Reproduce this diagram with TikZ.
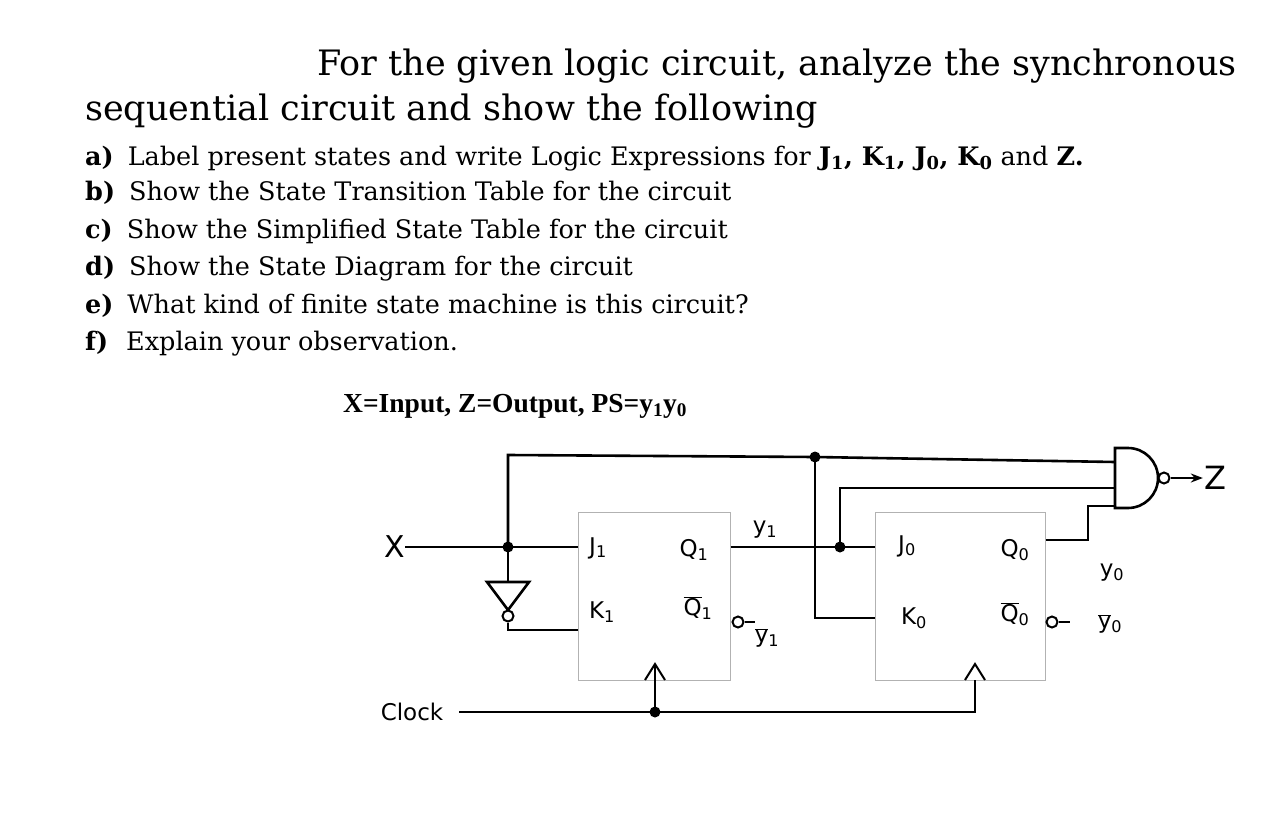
\documentclass[tikz,border=0pt]{standalone}
\usepackage{fontspec}
\setmainfont{DejaVu Serif}
\newfontfamily\tms{Liberation Serif}
\newfontfamily\hand{DejaVu Sans}
\usetikzlibrary{arrows.meta}
\begin{document}
\begin{tikzpicture}[x=1pt,y=-1pt,
 wire/.style={line width=2.6pt},
 ff/.style={draw=gray!60,line width=1pt,fill=white},
 dot/.style={circle,fill=black,inner sep=0pt,minimum size=11pt},
 bub/.style={circle,draw,line width=2pt,inner sep=0pt,minimum size=11pt,fill=white},
 hw/.style={font=\hand\fontsize{23}{25}\selectfont,inner sep=1pt},
 it/.style={anchor=base west,font=\fontsize{25.5}{28}\selectfont,inner sep=0pt}]
\useasboundingbox (0,0) rectangle (1288,816);
% header
\node[anchor=base west,inner sep=0pt,font=\fontsize{35}{38}\selectfont] (h1) at (317,75) {For the given logic circuit, analyze the synchronous};
\node[anchor=base west,inner sep=0pt,font=\fontsize{35}{38}\selectfont] (h2) at (85,121) {sequential circuit and show the following};
\node[it] (ia) at (85,165) {\textbf{a)}\hspace{14pt}Label present states and write Logic Expressions for \textbf{J\textsubscript{1}, K\textsubscript{1}, J\textsubscript{0}, K\textsubscript{0}} and \textbf{Z.}};
\node[it] (ib) at (85,200) {\textbf{b)}\hspace{14pt}Show the State Transition Table for the circuit};
\node[it] (ic) at (85,238) {\textbf{c)}\hspace{14pt}Show the Simplified State Table for the circuit};
\node[it] (id) at (85,275) {\textbf{d)}\hspace{14pt}Show the State Diagram for the circuit};
\node[it] (ie) at (85,313) {\textbf{e)}\hspace{14pt}What kind of finite state machine is this circuit?};
\node[it] (if) at (85,350) {\textbf{f)}\hspace{18pt}Explain your observation.};
\node[anchor=base west,inner sep=0pt,font=\tms\bfseries\fontsize{27.5}{30}\selectfont] (leg) at (343,412) {X=Input, Z=Output, PS=y\textsubscript{1}y\textsubscript{0}};
% flip-flops
\node[ff,minimum width=152pt,minimum height=168pt] (f1) at (654,596) {};
\node[ff,minimum width=170pt,minimum height=168pt] (f2) at (960,596) {};
\node[hw] (j1) at (598,548) {J\textsubscript{1}};
\node[hw] (k1) at (602,612) {K\textsubscript{1}};
\node[hw] (q1) at (694,550) {Q\textsubscript{1}};
\node[hw] (q1b) at (698,608) {$\overline{\mbox{Q}}$\textsubscript{1}};
\node[hw] (j0) at (907,546) {J\textsubscript{0}};
\node[hw] (k0) at (914,618) {K\textsubscript{0}};
\node[hw] (q0) at (1015,550) {Q\textsubscript{0}};
\node[hw] (q0b) at (1015,614) {$\overline{\mbox{Q}}$\textsubscript{0}};
\draw[line width=2pt] (645,680)--(655,664)--(665,680);
\draw[line width=2pt] (965,680)--(975,664)--(985,680);
% coordinates
\coordinate (xin) at (405,547);
\coordinate (jn) at (508,547);
\coordinate (tl) at (508,455);
\coordinate (tr) at (1115,462);
\coordinate (ja) at (815,457);
\coordinate (jb) at (840,547);
\node[hw,font=\hand\fontsize{30}{32}\selectfont] (xl) at (395,547) {X};
\node[hw] (ck) at (412,712) {Clock};
% AND gate
\draw[wire,fill=white] (1115,448)--(1128,448) arc(90:-90:30pt and 30pt)--(1115,508)--cycle;
\node[bub] (zb) at (1164,478) {};
\node[hw,font=\hand\fontsize{32}{34}\selectfont] (z) at (1215,478) {Z};
\draw[wire,-{Stealth[length=12pt]}] (zb.east)--(z.west);
% X and J1
\draw[wire] (xin)--(jn)--(f1.west|-jn);
\node[dot] at (jn) {};
\draw[wire] (jn)--(tl)--(ja)--(tr);
\node[dot] at (ja) {};
% inverter
\draw[wire] (jn)--(508,582);
\draw[wire] (487,582)--(529,582)--(508,610)--cycle;
\node[bub] (ib1) at (508,616) {};
\draw[wire] (ib1.south)--(508,630)--(f1.west|-0,630);
% Q1 to J0
\draw[wire] (f1.east|-jb)--(f2.west|-jb);
\node[dot] at (jb) {};
\draw[wire] (jb)--(840,488)--(1115,488);
\draw[wire] (ja)--(815,618)--(f2.west|-0,618);
% Q0 to gate
\draw[wire] (f2.east|-0,540)--(1088,540)--(1088,506)--(1115,506);
% bubbles on Qbar
\node[bub] (b1) at (738,622) {};
\draw[wire] (b1.east)--(755,622);
\node[bub] (b2) at (1052,622) {};
\draw[wire] (b2.east)--(1070,622);
\node[hw] (y1) at (765,530) {y\textsubscript{1}};
\node[hw] (y1b) at (767,638) {$\overline{\mbox{y}}$\textsubscript{1}};
\node[hw] (y0) at (1112,573) {y\textsubscript{0}};
\node[hw] (y0b) at (1110,624) {$\overline{\mbox{y}}$\textsubscript{0}};
% clock
\coordinate (cd) at (655,712);
\draw[wire] (ck.east)++(15,0)--(975,712)--(975,680);
\draw[wire] (cd)--(655,664);
\node[dot] at (cd) {};
\end{tikzpicture}
\end{document}
